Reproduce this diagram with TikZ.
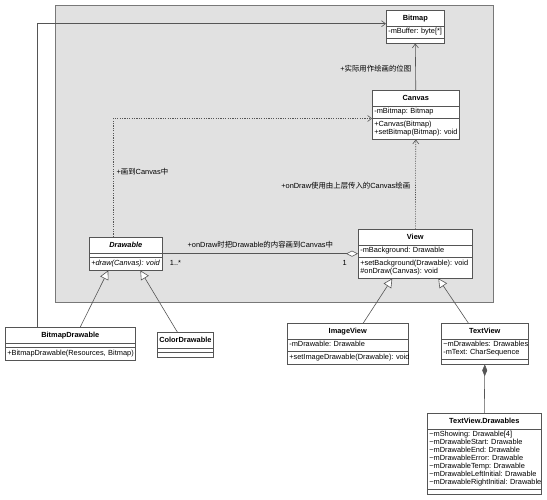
\documentclass[tikz,border=0pt]{standalone}
\usepackage{fontspec}
\setmainfont{Liberation Sans}
\newfontfamily\cjk{Noto Sans CJK SC}
\usetikzlibrary{shapes.multipart,arrows.meta,positioning,calc}
\frenchspacing

\definecolor{umlline}{RGB}{85,85,85}
\definecolor{bgfill}{RGB}{225,225,225}
\definecolor{bgline}{RGB}{120,120,120}

\newcommand\umlfont{\fontsize{7.4}{8}\selectfont}
\newcommand\umlstrut{\rule[-2.3pt]{0pt}{8pt}}
\newcommand\umltitle[1]{\umlfont\centering\mbox{\rule[-3pt]{0pt}{11pt}\textbf{#1}}\par}
\newcommand\umlrow[1]{\umlfont\mbox{\umlstrut#1}\par}

\tikzset{
  umlclass/.style={rectangle split, rectangle split parts=3, draw=umlline, fill=white,
    line width=0.6pt, text width=#1, inner xsep=2pt, inner ysep=2pt,
    rectangle split empty part height=1pt, font=\umlfont, align=left, anchor=north west},
  note/.style={font=\umlfont, inner sep=1pt},
  assoc/.style={draw=umlline, line width=0.6pt, -{Straight Barb[length=4pt,width=6pt]}},
  depend/.style={assoc, dash pattern=on 1.2pt off 1.2pt},
  inherit/.style={draw=umlline, line width=0.6pt, -{Triangle[open,length=9pt,width=9pt,fill=white]}},
  aggr/.style={draw=umlline, line width=0.6pt, -{Diamond[open,length=12pt,width=6pt,fill=white]}},
  compo/.style={draw=umlline, line width=0.6pt, -{Diamond[length=12pt,width=5pt]}}
}

\begin{document}
\begin{tikzpicture}[x=1pt,y=-1pt]
\useasboundingbox (0,0) rectangle (547,500);

% package frame
\draw[draw=bgline, fill=bgfill, line width=0.6pt] (55,5) rectangle (493,302);

% classes
\node[umlclass=54pt] (bitmap) at (386,10) {\umltitle{Bitmap}
  \nodepart{second}\umlrow{-mBuffer: byte[*]}
  \nodepart{third}};
\node[umlclass=83pt] (canvas) at (372,90) {\umltitle{Canvas}
  \nodepart{second}\umlrow{-mBitmap: Bitmap}
  \nodepart{third}\umlrow{+Canvas(Bitmap)}\umlrow{+setBitmap(Bitmap): void}};
\node[umlclass=69pt] (drawable) at (89,237) {\umltitle{\textit{Drawable}}
  \nodepart{second}
  \nodepart{third}\umlrow{\textit{+draw(Canvas): void}}};
\node[umlclass=110pt] (view) at (358,229) {\umltitle{View}
  \nodepart{second}\umlrow{-mBackground: Drawable}
  \nodepart{third}\umlrow{+setBackground(Drawable): void}\umlrow{\#onDraw(Canvas): void}};
\node[umlclass=126pt] (bitmapdrawable) at (5,327) {\umltitle{BitmapDrawable}
  \nodepart{second}
  \nodepart{third}\umlrow{+BitmapDrawable(Resources, Bitmap)}};
\node[umlclass=52pt] (colordrawable) at (157,332) {\umltitle{ColorDrawable}
  \nodepart{second}
  \nodepart{third}};
\node[umlclass=117pt] (imageview) at (287,323) {\umltitle{ImageView}
  \nodepart{second}\umlrow{-mDrawable: Drawable}
  \nodepart{third}\umlrow{+setImageDrawable(Drawable): void}};
\node[umlclass=83pt] (textview) at (441,323) {\umltitle{TextView}
  \nodepart{second}\umlrow{\textasciitilde mDrawables: Drawables}\umlrow{-mText: CharSequence}
  \nodepart{third}};
\node[umlclass=110pt] (drawables) at (427,413) {\umltitle{TextView.Drawables}
  \nodepart{second}\umlrow{\textasciitilde mShowing: Drawable[4]}
    \umlrow{\textasciitilde mDrawableStart: Drawable}
    \umlrow{\textasciitilde mDrawableEnd: Drawable}
    \umlrow{\textasciitilde mDrawableError: Drawable}
    \umlrow{\textasciitilde mDrawableTemp: Drawable}
    \umlrow{\textasciitilde mDrawableLeftInitial: Drawable}
    \umlrow{\textasciitilde mDrawableRightInitial: Drawable}
  \nodepart{third}};

% associations
\draw[assoc] (canvas.north) -- node[note, left=3pt, pos=0.46] (lbitmap) {+{\cjk 实际用作绘画的位图}} (bitmap.south);
\draw[assoc] ([xshift=-33pt]bitmapdrawable.north) |- ([yshift=3pt]bitmap.west);
\draw[depend] ([xshift=-12.5pt]drawable.north) |- node[note, right=2pt, pos=0.275] (lcanvas) {+{\cjk 画到}Canvas{\cjk 中}} (canvas.second split west);
\draw[depend] (view.north) -- node[note, left=4pt, pos=0.48] (lview) {+onDraw{\cjk 使用由上层传入的}Canvas{\cjk 绘画}} (canvas.south);
\draw[aggr] (drawable.east) -- node[note, above=4pt] (ldrawable) {+onDraw{\cjk 时把}Drawable{\cjk 的内容画到}Canvas{\cjk 中}}
  node[note, pos=0, below right=5pt and 6pt] (many) {1..*}
  node[note, pos=1, below left=5pt and 10pt] (one) {1} (view.west);

% generalizations
\draw[inherit] ([xshift=10pt]bitmapdrawable.north) -- ([xshift=-17.5pt]drawable.south);
\draw[inherit] ([xshift=-8pt]colordrawable.north) -- ([xshift=14.5pt]drawable.south);
\draw[inherit] ([xshift=15.5pt]imageview.north) -- ([xshift=-23pt]view.south);
\draw[inherit] ([xshift=-16.5pt]textview.north) -- ([xshift=23pt]view.south);
\draw[compo] (drawables.north) -- (textview.south);

\end{tikzpicture}
\end{document}
